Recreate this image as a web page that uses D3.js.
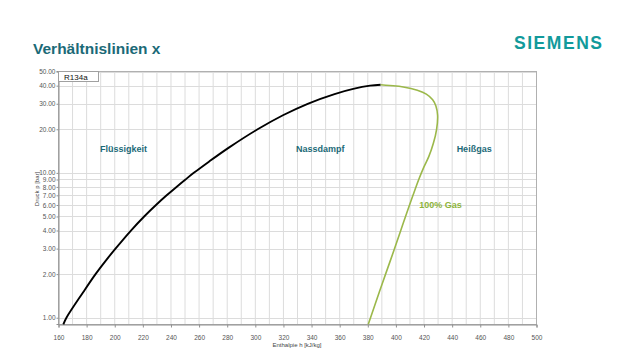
<!DOCTYPE html>
<html><head><meta charset="utf-8">
<script src="https://cdn.jsdelivr.net/npm/d3@7"></script>
<style>body{margin:0;background:#fff}svg{display:block}text{font-family:"Liberation Sans",Arial,sans-serif}</style>
</head><body>
<svg id="c" width="640" height="360"></svg>
<script>
// Saturated liquid line (enthalpy kJ/kg, pressure bar)
const liquidH = [163.8,166.0,177.9,186.7,194.3,200.9,211.9,221.3,229.7,237.3,244.3,250.7,256.6,267.6,281.8,302.0,320.0,337.6,356.7,370,382,389.5];
const liquidP = [0.9,1,1.5,2,2.5,3,4,5,6,7,8,9,10,12,15,20,25,30,35,38,40,40.6];
// Saturated vapour line, x = 1 (100% Gas)
const vaporH = [389.5,396,405.6,415.6,422,426.5,428.8,430,429.3,427,423.8,420.3,416.6,412.5,407.2,403.8,399.4,393,388.5,382.3,380.7];
const vaporP = [40.6,40.1,39.2,37.2,35,32,29,25,20,16,13,11,9,7,5,4,3,2,1.5,1,0.9];
const xTicks = [160,180,200,220,240,260,280,300,320,340,360,380,400,420,440,460,480,500];
const yTicks = [1,2,3,4,5,6,7,8,9,10,20,30,40,50];
const regionLabels = ["Flüssigkeit","Nassdampf","Heißgas"];
const regionH = [206.6,346.6,456];
const regionP = [14,14,14];

const svg = d3.select("#c");
const L=58,R=536,T=71,B=324;
const x = d3.scaleLinear().domain([160,500]).range([L,R]);
const y = d3.scaleLog().domain([0.905,50.5]).range([B,T]);

// grid
const gx = d3.range(160,501,10);
svg.append("g").selectAll("line").data(gx).join("line")
  .attr("x1",d=>x(d)+0.5).attr("x2",d=>x(d)+0.5).attr("y1",T).attr("y2",B)
  .attr("stroke","#dcdcdc").attr("stroke-width",1);
svg.append("g").selectAll("line").data(yTicks).join("line")
  .attr("x1",L).attr("x2",R).attr("y1",d=>Math.round(y(d))+0.5).attr("y2",d=>Math.round(y(d))+0.5)
  .attr("stroke","#dcdcdc").attr("stroke-width",1);

// frame
svg.append("rect").attr("x",L+0.5).attr("y",T+0.5).attr("width",R-L).attr("height",B-T)
  .attr("fill","none").attr("stroke","#b0b0b0").attr("stroke-width",1);

// axes
const xAxis = d3.axisBottom(x).tickValues(xTicks).tickSize(3).tickFormat(d3.format("d"));
const gxA = svg.append("g").attr("transform",`translate(0.5,${B+0.5})`).call(xAxis);
gxA.select(".domain").attr("stroke","#909090");
gxA.selectAll(".tick line").attr("stroke","#909090");
gxA.selectAll("text").attr("fill","#555").attr("font-size","6.5px").attr("dy","1.4em");

const yAxis = d3.axisLeft(y).tickValues(yTicks).tickSize(2).tickFormat(d3.format(".2f"));
const gyA = svg.append("g").attr("transform",`translate(${L+0.5},0)`).call(yAxis);
gyA.select(".domain").attr("stroke","#909090");
gyA.selectAll(".tick line").attr("stroke","#909090");
gyA.selectAll("text").attr("fill","#555").attr("font-size","6.5px").attr("x",-3);

// axis titles
svg.append("text").attr("x",297).attr("y",347).attr("text-anchor","middle")
  .attr("font-size","6px").attr("fill","#444").text("Enthalpie h  [kJ/kg]");
svg.append("text").attr("transform","translate(39,189) rotate(-90)").attr("text-anchor","middle")
  .attr("font-size","6px").attr("fill","#444").text("Druck p  [bar]");

// curves
const line = d3.line().x(d=>x(d[0])).y(d=>y(d[1])).curve(d3.curveCatmullRom.alpha(0.5));
svg.append("path").datum(liquidH.map((h,i)=>[h,liquidP[i]]))
  .attr("d",line).attr("fill","none").attr("stroke","#000").attr("stroke-width",1.9);
svg.append("path").datum(vaporH.map((h,i)=>[h,vaporP[i]]))
  .attr("d",line).attr("fill","none").attr("stroke","#9bb84a").attr("stroke-width",1.6);

// region labels
svg.append("g").selectAll("text").data(regionLabels).join("text")
  .attr("x",(d,i)=>x(regionH[i])).attr("y",(d,i)=>y(regionP[i]))
  .attr("text-anchor","middle").attr("font-size","9px").attr("font-weight","bold")
  .attr("fill","#1c6a78").text(d=>d);
svg.append("text").attr("x",x(417)).attr("y",y(5.72)).attr("font-size","9px")
  .attr("font-weight","bold").attr("fill","#8db33a").text("100% Gas");

// R134a box
svg.append("rect").attr("x",L+0.5).attr("y",T+0.5).attr("width",40).attr("height",10)
  .attr("fill","#fff").attr("stroke","#a0a0a0");
svg.append("text").attr("x",L+6).attr("y",T+8.5).attr("font-size","8px").attr("fill","#111").text("R134a");

// title & logo
svg.append("text").attr("x",33).attr("y",54).attr("font-size","15.5px").attr("font-weight","bold")
  .attr("fill","#1b6a77").text("Verhältnislinien x");
svg.append("text").attr("x",514).attr("y",48.5).attr("font-size","17.5px").attr("font-weight","bold")
  .attr("fill","#129a9b").attr("textLength",88).attr("lengthAdjust","spacing").text("SIEMENS");
</script>
</body></html>
